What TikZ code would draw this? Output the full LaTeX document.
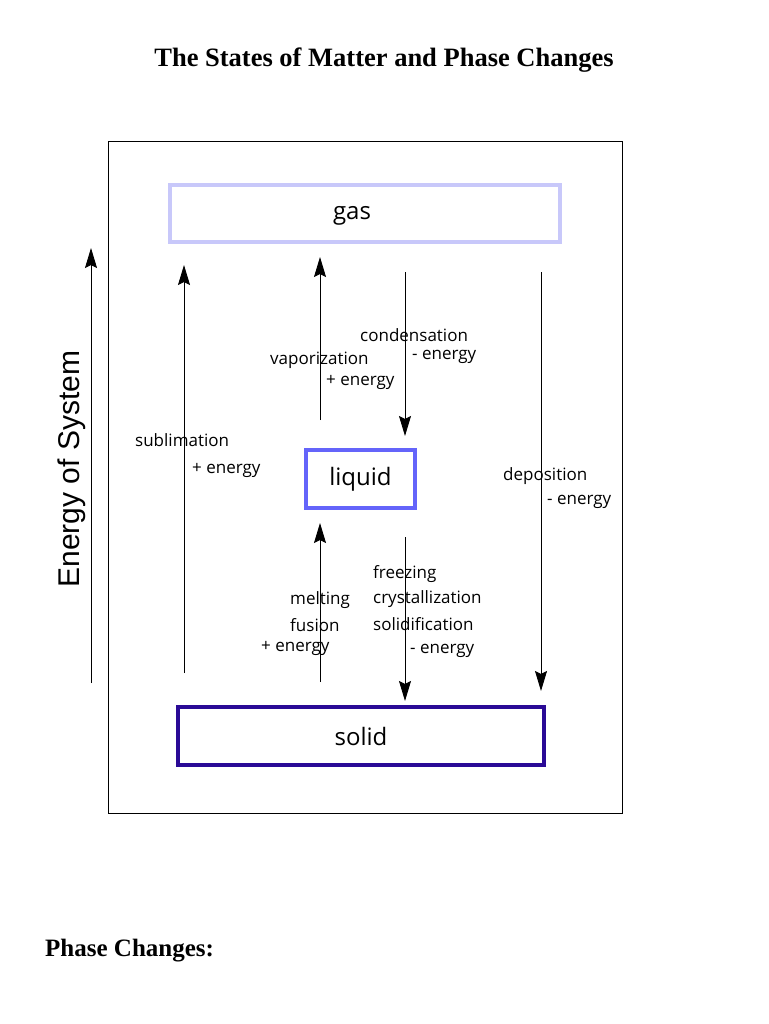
\documentclass[tikz,border=0pt]{standalone}
\usepackage{fontspec}
\setmainfont{Liberation Serif}
\newfontfamily\lbl{Open Sans}
\newfontfamily\axf{Liberation Sans}
\usetikzlibrary{arrows.meta}
\definecolor{gasc}{HTML}{C8C8FA}
\definecolor{liqc}{HTML}{6464FA}
\definecolor{solc}{HTML}{2A0A96}
\begin{document}
\begin{tikzpicture}[x=1pt,y=-1pt,
  arr/.style={-{Stealth[length=20pt,width=12pt,inset=3pt]},line width=0.9pt},
  lab/.style={font=\lbl\fontsize{17}{20}\selectfont,anchor=west,inner sep=0pt},
  box/.style={draw,line width=4pt,font=\lbl\fontsize{24}{28}\selectfont}]
\useasboundingbox (0,0) rectangle (768,1024);
\node[font=\bfseries\fontsize{26.5}{30}\selectfont] (title) at (384,60) {The States of Matter and Phase Changes};
\node[draw,line width=0.8pt,minimum width=514pt,minimum height=672pt] (frame) at (365,477) {};
\node[box,draw=gasc,minimum width=390pt,minimum height=57pt,text depth=0pt] (gas) at (365,213.5) {};
\node[font=\lbl\fontsize{24}{28}\selectfont] (gast) at (352,216) {gas};
\node[box,draw=liqc,minimum width=109pt,minimum height=58pt] (liquid) at (360.5,479) {liquid};
\node[box,draw=solc,minimum width=366pt,minimum height=58pt] (solid) at (361,736) {solid};
\coordinate (ea) at (91,683); \coordinate (eb) at (91,248);
\draw[arr] (ea) -- (eb);
\node[font=\axf\fontsize{30}{34}\selectfont,rotate=90] (esys) at (72,469) {Energy of System};
\coordinate (s1) at (184,673); \coordinate (s2) at (184,265);
\draw[arr] (s1) -- (s2);
\coordinate (v1) at (320,420); \coordinate (v2) at (320,257);
\draw[arr] (v1) -- (v2);
\coordinate (c1) at (405,272); \coordinate (c2) at (405,436);
\draw[arr] (c1) -- (c2);
\coordinate (d1) at (541,272); \coordinate (d2) at (541,691);
\draw[arr] (d1) -- (d2);
\coordinate (m1) at (320,682); \coordinate (m2) at (320,523);
\draw[arr] (m1) -- (m2);
\coordinate (f1) at (405,537); \coordinate (f2) at (405,701);
\draw[arr] (f1) -- (f2);
\node[lab] (t1) at (360,335) {condensation};
\node[lab] (t2) at (412,357) {- energy};
\node[lab] (t3) at (270,360) {vaporization};
\node[lab] (t4) at (326,382) {+ energy};
\node[lab] (t5) at (135,440) {sublimation};
\node[lab] (t6) at (192,470) {+ energy};
\node[lab] (t7) at (503,476) {deposition};
\node[lab] (t8) at (547,502) {- energy};
\node[lab] (t9) at (373,574) {freezing};
\node[lab] (t10) at (373,599) {crystallization};
\node[lab] (t11) at (373,624) {solidification};
\node[lab] (t12) at (410,651) {- energy};
\node[lab] (t13) at (290,600) {melting};
\node[lab] (t14) at (290,625) {fusion};
\node[lab] (t15) at (261,648) {+ energy};
\node[font=\bfseries\fontsize{25}{29}\selectfont,anchor=west,inner sep=0pt] (pc) at (45,951) {Phase Changes:};
\end{tikzpicture}
\end{document}
